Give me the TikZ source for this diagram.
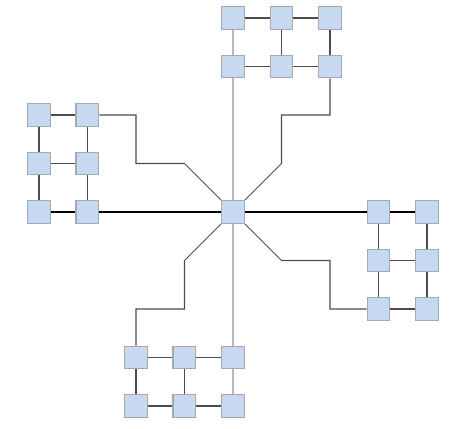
\documentclass[tikz,border=0pt]{standalone}
\usepackage{tikz}
\begin{document}
\begin{tikzpicture}[
    box/.style={draw=boxgray, fill=boxblue, line width=0.7pt, minimum size=0.47cm, inner sep=0pt},
    link/.style={draw=black!70, line width=0.6pt},
    axis line/.style={draw=black!28, line width=0.9pt},
    main line/.style={draw=black, line width=0.6pt},
    ]
\definecolor{boxblue}{HTML}{C6D9F1}
\definecolor{boxgray}{HTML}{A3A9B0}
\useasboundingbox (-4.804,-4.454) rectangle (4.763,4.371);
% vertical axis first so boxes sit on top
\coordinate (axisTop) at (0,4);
\node[box] (C) at (0,0) {};
\node[box] (T1) at (0,4) {};
\node[box] (T2) at (1,4) {};
\node[box] (T3) at (2,4) {};
\node[box] (T4) at (0,3) {};
\node[box] (T5) at (1,3) {};
\node[box] (T6) at (2,3) {};
\node[box] (L1) at (-4,2) {};
\node[box] (L2) at (-3,2) {};
\node[box] (L3) at (-4,1) {};
\node[box] (L4) at (-3,1) {};
\node[box] (L5) at (-4,0) {};
\node[box] (L6) at (-3,0) {};
\node[box] (R1) at (3,0) {};
\node[box] (R2) at (4,0) {};
\node[box] (R3) at (3,-1) {};
\node[box] (R4) at (4,-1) {};
\node[box] (R5) at (3,-2) {};
\node[box] (R6) at (4,-2) {};
\node[box] (B1) at (-2,-3) {};
\node[box] (B2) at (-1,-3) {};
\node[box] (B3) at (0,-3) {};
\node[box] (B4) at (-2,-4) {};
\node[box] (B5) at (-1,-4) {};
\node[box] (B6) at (0,-4) {};
% axis
\draw[axis line] (T1) -- (T4);
\draw[axis line] (T4) -- (C);
\draw[axis line] (C) -- (B3);
\draw[axis line] (B3) -- (B6);
\draw[main line] (L6) -- (C);
\draw[main line] (C) -- (R1);
\draw[main line] (L5) -- (L6);
\draw[main line] (R1) -- (R2);
% top group
\draw[link] (T1) -- (T2);
\draw[link] (T2) -- (T3);
\draw[link] (T4) -- (T5);
\draw[link] (T5) -- (T6);
\draw[link] (T2) -- (T5);
\draw[link] (T3) -- (T6);
\draw[link] (T6) -- (2,2) -- (1,2) -- (1,1) -- (C);
% left group
\draw[link] (L1) -- (L2);
\draw[link] (L3) -- (L4);
\draw[link] (L1) -- (L3);
\draw[link] (L3) -- (L5);
\draw[link] (L2) -- (L4);
\draw[link] (L4) -- (L6);
\draw[link] (L2) -- (-2,2) -- (-2,1) -- (-1,1) -- (C);
% right group
\draw[link] (R3) -- (R4);
\draw[link] (R5) -- (R6);
\draw[link] (R1) -- (R3);
\draw[link] (R3) -- (R5);
\draw[link] (R2) -- (R4);
\draw[link] (R4) -- (R6);
\draw[link] (C) -- (1,-1) -- (2,-1) -- (2,-2) -- (R5);
% bottom group
\draw[link] (B1) -- (B2);
\draw[link] (B2) -- (B3);
\draw[link] (B4) -- (B5);
\draw[link] (B5) -- (B6);
\draw[link] (B1) -- (B4);
\draw[link] (B2) -- (B5);
\draw[link] (C) -- (-1,-1) -- (-1,-2) -- (-2,-2) -- (B1);
\end{tikzpicture}
\end{document}
